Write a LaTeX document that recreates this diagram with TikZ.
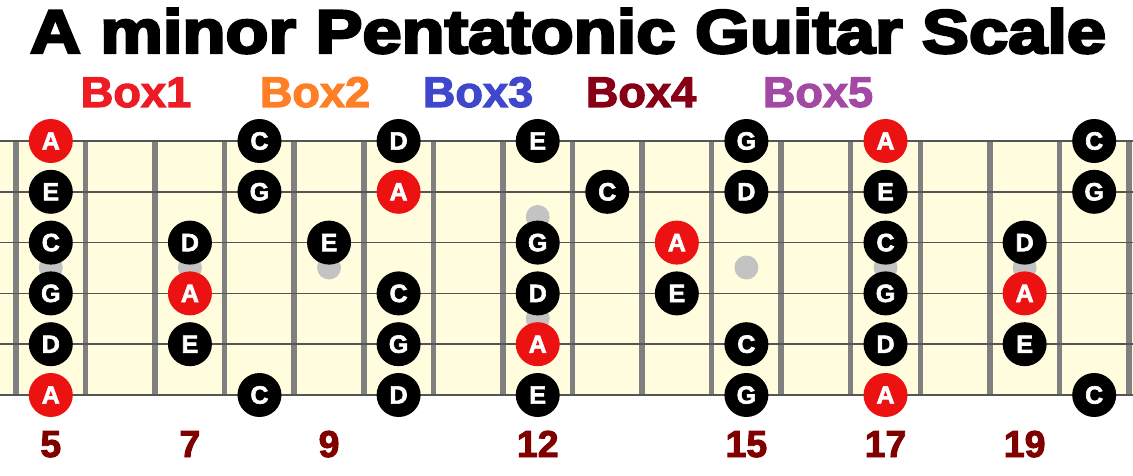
\documentclass[tikz,border=0pt]{standalone}
\usepackage{fontspec}
\setmainfont{Liberation Sans}
\newfontfamily\heavyfont{Liberation Sans Bold}[FakeBold=4]
\newfontfamily\boldfont{Liberation Sans Bold}[FakeBold=2.5]
\definecolor{boardc}{RGB}{255,253,222}
\definecolor{fretc}{RGB}{128,128,128}
\definecolor{stringc}{RGB}{85,85,85}
\definecolor{dotc}{RGB}{195,195,195}
\definecolor{rootc}{RGB}{236,18,18}
\definecolor{numc}{RGB}{128,0,0}
\definecolor{boxa}{RGB}{237,28,36}
\definecolor{boxb}{RGB}{255,127,39}
\definecolor{boxc}{RGB}{63,72,204}
\definecolor{boxd}{RGB}{136,0,21}
\definecolor{boxe}{RGB}{163,73,164}
\tikzset{
  note/.style={circle, fill=black, text=white, minimum size=44pt, inner sep=0pt,
    font=\boldfont\fontsize{25}{25}\selectfont},
  root/.style={note, fill=rootc},
  boxlbl/.style={anchor=base, inner sep=0pt, font=\boldfont\fontsize{43}{43}\selectfont},
  fretnum/.style={anchor=base, inner sep=0pt, text=numc, font=\boldfont\fontsize{37.5}{37.5}\selectfont},
  fretwire/.style={draw=fretc, line width=5.5pt},
  stringline/.style={draw=stringc, line width=1.6pt},
  inlay/.style={fill=dotc}
}
\begin{document}
\begin{tikzpicture}[x=1pt, y=-1pt]
\useasboundingbox (0,0) rectangle (1133,476);
% fretboard
\fill[boardc] (0,141) rectangle (1133,395);
% inlay dots
\foreach \f/\yy in {5/267.5, 7/267.5, 9/267.5, 12/217, 12/318.5, 15/267.5, 17/267.5, 19/267.5}
  \fill[inlay] ({50.8+(\f-5)*69.56},\yy) circle (12);
% fret wires
\foreach \k in {0,...,16}
  \draw[fretwire] ({16+\k*69.56},141) -- ({16+\k*69.56},395);
% strings
\foreach \s in {1,...,6}
  \draw[stringline] (0,{141+(\s-1)*50.8}) -- (1133,{141+(\s-1)*50.8});
% notes
\foreach \s/\f/\l/\st in {
  1/5/A/root, 1/8/C/note, 1/10/D/note, 1/12/E/note, 1/15/G/note, 1/17/A/root, 1/20/C/note,
  2/5/E/note, 2/8/G/note, 2/10/A/root, 2/13/C/note, 2/15/D/note, 2/17/E/note, 2/20/G/note,
  3/5/C/note, 3/7/D/note, 3/9/E/note, 3/12/G/note, 3/14/A/root, 3/17/C/note, 3/19/D/note,
  4/5/G/note, 4/7/A/root, 4/10/C/note, 4/12/D/note, 4/14/E/note, 4/17/G/note, 4/19/A/root,
  5/5/D/note, 5/7/E/note, 5/10/G/note, 5/12/A/root, 5/15/C/note, 5/17/D/note, 5/19/E/note,
  6/5/A/root, 6/8/C/note, 6/10/D/note, 6/12/E/note, 6/15/G/note, 6/17/A/root, 6/20/C/note}
  \node[\st] (n\s-\f) at ({50.8+(\f-5)*69.56},{141+(\s-1)*50.8}) {\l};
% title
\node[anchor=base, inner sep=0pt, font=\heavyfont\fontsize{61.5}{61.5}\selectfont] (title) at (568,53)
  {\scalebox{1.145}[1]{A minor Pentatonic Guitar Scale}};
% box labels
\node[boxlbl, text=boxa] (box1) at (136,107) {\scalebox{1.05}[1]{Box1}};
\node[boxlbl, text=boxb] (box2) at (315,107) {\scalebox{1.05}[1]{Box2}};
\node[boxlbl, text=boxc] (box3) at (478,107) {\scalebox{1.05}[1]{Box3}};
\node[boxlbl, text=boxd] (box4) at (641,107) {\scalebox{1.05}[1]{Box4}};
\node[boxlbl, text=boxe] (box5) at (818,107) {\scalebox{1.05}[1]{Box5}};
% fret numbers
\foreach \f in {5,7,9,12,15,17,19}
  \node[fretnum] (fn\f) at ({50.8+(\f-5)*69.56},457) {\f};
\end{tikzpicture}
\end{document}
